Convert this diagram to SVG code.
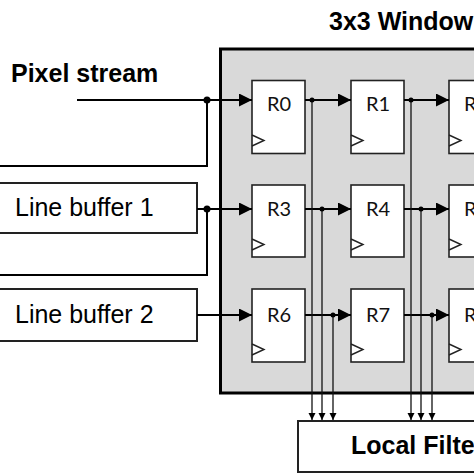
<svg xmlns="http://www.w3.org/2000/svg" width="474" height="474" viewBox="0 0 474 474">
<defs>
<style>
.lbl{font-family:"Liberation Sans",Arial,sans-serif;font-size:25px;fill:#000}
.bold{font-weight:bold}
.reg{fill:#fff;stroke:#222;stroke-width:1.6}
.rt{font-family:Lato,"Open Sans",sans-serif;font-size:20px;fill:#111;text-anchor:middle}
.clk{fill:none;stroke:#222;stroke-width:1.4}
.w{fill:none;stroke:#000;stroke-width:2}
.t{fill:none;stroke:#111;stroke-width:1.3}
.box{fill:#fff;stroke:#222;stroke-width:2}
</style>
<marker id="ah" markerUnits="userSpaceOnUse" markerWidth="14" markerHeight="14" refX="13" refY="6.5" orient="auto">
<path d="M0,0 L13,6.5 L0,13 z" fill="#000"/>
</marker>
<marker id="as" markerUnits="userSpaceOnUse" markerWidth="8" markerHeight="8" refX="7" refY="3.5" orient="auto">
<path d="M0,0 L7,3.5 L0,7 z" fill="#000"/>
</marker>
</defs>
<rect width="474" height="474" fill="#fff"/>

<g id="title"><text class="lbl bold" x="329" y="30">3x3 Window</text></g>
<g id="pixel-stream"><text class="lbl bold" x="11" y="82">Pixel stream</text></g>

<g id="window">
<rect x="220.5" y="49" width="300" height="344" fill="#d9d9d9" stroke="#000" stroke-width="3"/>
</g>

<g id="lb1"><rect class="box" x="-2" y="183" width="199" height="50"/><text class="lbl" x="15" y="216">Line buffer 1</text></g>
<g id="lb2"><rect class="box" x="-2" y="289" width="199" height="52"/><text class="lbl" x="15" y="323">Line buffer 2</text></g>

<g id="local-filter"><rect class="box" x="298" y="421" width="220" height="51"/><text class="lbl bold" x="351" y="454">Local Filter</text></g>

<g id="R0"><rect class="reg" x="252" y="80.5" width="53" height="73"/><text class="rt" x="279" y="111">R0</text><path class="clk" d="M252,135 L264,140.5 L252,146"/></g>
<g id="R1"><rect class="reg" x="351" y="80.5" width="53" height="73"/><text class="rt" x="378" y="111">R1</text><path class="clk" d="M351,135 L363,140.5 L351,146"/></g>
<g id="R2"><rect class="reg" x="449" y="80.5" width="53" height="73"/><text class="rt" x="476" y="111">R2</text><path class="clk" d="M449,135 L461,140.5 L449,146"/></g>
<g id="R3"><rect class="reg" x="252" y="185" width="53" height="72"/><text class="rt" x="279" y="216">R3</text><path class="clk" d="M252,239 L264,244.5 L252,250"/></g>
<g id="R4"><rect class="reg" x="351" y="185" width="53" height="72"/><text class="rt" x="378" y="216">R4</text><path class="clk" d="M351,239 L363,244.5 L351,250"/></g>
<g id="R5"><rect class="reg" x="449" y="185" width="53" height="72"/><text class="rt" x="476" y="216">R5</text><path class="clk" d="M449,239 L461,244.5 L449,250"/></g>
<g id="R6"><rect class="reg" x="252" y="289" width="53" height="73"/><text class="rt" x="279" y="322">R6</text><path class="clk" d="M252,344 L264,349.5 L252,355"/></g>
<g id="R7"><rect class="reg" x="351" y="289" width="53" height="73"/><text class="rt" x="378" y="322">R7</text><path class="clk" d="M351,344 L363,349.5 L351,355"/></g>
<g id="R8"><rect class="reg" x="449" y="289" width="53" height="73"/><text class="rt" x="476" y="322">R8</text><path class="clk" d="M449,344 L461,349.5 L449,355"/></g>

<g id="connectors">
<path class="w" d="M77,100 H252" marker-end="url(#ah)"/>
<path class="w" d="M207,100 V166 H-2"/>
<path class="w" d="M197,209 H252" marker-end="url(#ah)"/>
<path class="w" d="M207,209 V275 H-2"/>
<path class="w" d="M197,315 H252" marker-end="url(#ah)"/>

<path class="w" d="M305,100 H351" marker-end="url(#ah)"/>
<path class="w" d="M404,100 H449" marker-end="url(#ah)"/>
<path class="w" d="M305,209 H351" marker-end="url(#ah)"/>
<path class="w" d="M404,209 H449" marker-end="url(#ah)"/>
<path class="w" d="M305,315 H351" marker-end="url(#ah)"/>
<path class="w" d="M404,315 H449" marker-end="url(#ah)"/>

<path class="t" d="M312,100 V420" marker-end="url(#as)"/>
<path class="t" d="M322,209 V420" marker-end="url(#as)"/>
<path class="t" d="M333,315 V420" marker-end="url(#as)"/>
<path class="t" d="M411,100 V420" marker-end="url(#as)"/>
<path class="t" d="M421,209 V420" marker-end="url(#as)"/>
<path class="t" d="M432,315 V420" marker-end="url(#as)"/>

<g fill="#000">
<circle cx="207" cy="100" r="3.5"/>
<circle cx="207" cy="209" r="3.5"/>
<circle cx="312" cy="100" r="2.5"/>
<circle cx="322" cy="209" r="2.5"/>
<circle cx="333" cy="315" r="2.5"/>
<circle cx="411" cy="100" r="2.5"/>
<circle cx="421" cy="209" r="2.5"/>
<circle cx="432" cy="315" r="2.5"/>
</g>
</g>
</svg>
